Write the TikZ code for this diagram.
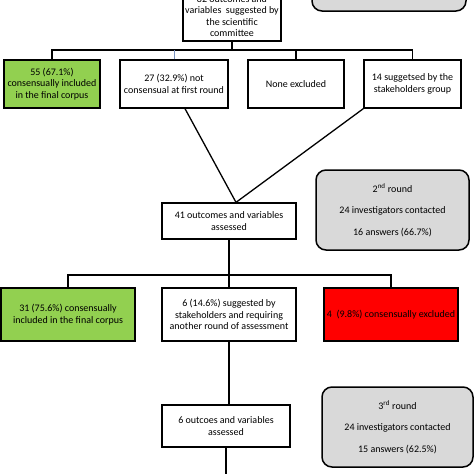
\documentclass[tikz,border=0pt]{standalone}
\usepackage{fontspec}
\setmainfont{Carlito}
\usepackage{xcolor}
\usepackage{tikz}
\usetikzlibrary{calc}
\definecolor{okgreen}{RGB}{146,208,80}
\definecolor{roundgray}{RGB}{217,217,217}
\definecolor{linkblue}{RGB}{120,145,190}

\begin{document}
\begin{tikzpicture}[x=1pt, y=-1pt,
  box/.style={draw=black, line width=1.3pt, align=center, inner sep=1pt, font=\fontsize{10}{11.5}\selectfont},
  roundbox/.style={draw=black, line width=1.5pt, rounded corners=10pt, fill=roundgray, align=center, font=\fontsize{10}{11.5}\selectfont},
  link/.style={black, line width=1.3pt}]
  \clip (0,0) rectangle (474,474);
  \fill[white] (0,0) rectangle (474,474);
  % Top: first round
  \node[box, minimum width=98pt, minimum height=50pt] (suggested) at (232,16) {82 outcomes and\\variables\ \ suggested by\\the scientific\\committee};
  \node[roundbox, minimum width=154pt, minimum height=80pt] (round1) at (389,-29) {};
  % Row 1: outcome of first round
  \node[box, fill=okgreen, minimum width=96pt, minimum height=48pt] (inc1) at (52,84) {55 (67.1\%)\\consensually included\\in the final corpus};
  \node[box, minimum width=108pt, minimum height=48pt] (notcons) at (174,84) {27 (32.9\%) not\\consensual at first round};
  \node[box, minimum width=96pt, minimum height=48pt] (noneexc) at (296,84) {None excluded};
  \node[box, minimum width=97pt, minimum height=48pt] (stake1) at (412.5,84) {14 suggetsed by the\\stakeholders group};
  \coordinate (bar1) at (232,50);
  \draw[link] (suggested.south) -- (bar1);
  \draw[link] (inc1.north) |- (stake1.north |- bar1) -- (stake1.north);
  \draw[linkblue, line width=0.6pt] (notcons.north) -- (notcons.north |- bar1);
  \draw[link] (noneexc.north) -- (noneexc.north |- bar1);
  % Second round
  \node[box, minimum width=134pt, minimum height=36pt] (assess41) at (229,221) {41 outcomes and variables\\assessed};
  \coordinate (join41) at ([xshift=7pt]assess41.north);
  \draw[link] ([xshift=11pt]notcons.south) -- (join41);
  \draw[link] (stake1.south west) -- (join41);
  \node[roundbox, minimum width=153pt, minimum height=80pt] (round2) at (392.5,210) {2\textsuperscript{nd} round\\[10pt]24 investigators contacted\\[10pt]16 answers (66.7\%)};
  % Row 2: outcome of second round
  \node[box, fill=okgreen, minimum width=134pt, minimum height=53pt] (inc2) at (68,314.5) {31 (75.6\%) consensually\\included in the final corpus};
  \node[box, minimum width=134pt, minimum height=53pt] (another) at (229,314.5) {6 (14.6\%) suggested by\\stakeholders and requiring\\another round of assessment};
  \node[box, fill=red, minimum width=134pt, minimum height=53pt] (excl) at (391,314.5) {4\ \ (9.8\%) consensually excluded};
  \coordinate (bar2) at (229,275);
  \draw[link] (assess41.south) -- (bar2);
  \draw[link] (inc2.north) |- (excl.north |- bar2) -- (excl.north);
  \draw[link] (another.north) -- (another.north |- bar2);
  % Third round
  \node[box, minimum width=128pt, minimum height=42pt] (assess6) at (226,426) {6 outcoes and variables\\assessed};
  \draw[link] (another.south) -- (another.south |- assess6.north);
  \coordinate (down6) at (227,480);
  \draw[link] (assess6.south) -- (assess6.south |- down6);
  \node[roundbox, minimum width=151pt, minimum height=80pt] (round3) at (397.5,427) {3\textsuperscript{rd} round\\[10pt]24 investigators contacted\\[10pt]15 answers (62.5\%)};
\end{tikzpicture}
\end{document}
